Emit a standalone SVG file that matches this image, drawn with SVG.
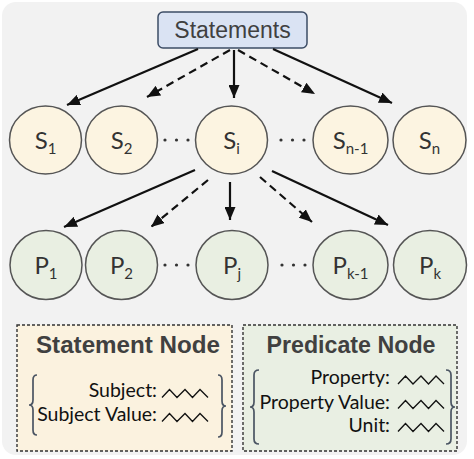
<svg xmlns="http://www.w3.org/2000/svg" width="474" height="459" viewBox="0 0 474 459">
<style>
.s{fill:#fcf4e1;stroke:#555;stroke-width:1.5}
.p{fill:#e9efe2;stroke:#555;stroke-width:1.5}
.lab{font-family:Lato,"Open Sans",sans-serif;font-size:24px;fill:#333;text-anchor:middle}
.sub{font-size:15px}
.ln{stroke:#111;stroke-width:2.2;fill:none;marker-end:url(#ah)}
.dash{stroke-dasharray:8,5}
.title{font-family:"Liberation Sans",Arial,sans-serif;font-weight:bold;font-size:23.5px;fill:#404040;text-anchor:middle}
.body{font-family:Lato,"Open Sans",sans-serif;font-size:19.5px;fill:#111;text-anchor:end}
.sq{fill:none;stroke:#111;stroke-width:1.3;stroke-linejoin:miter}
.br{fill:none;stroke:#4b5563;stroke-width:1.7}
.dot{fill:#333}
</style>
<defs>
<marker id="ah" markerUnits="userSpaceOnUse" markerWidth="13" markerHeight="11" refX="13" refY="5.5" orient="auto">
<path d="M0,0 L13,5.5 L0,11 z" fill="#111"/>
</marker>
<polyline id="zz" points="0,8.5 7.5,0.5 15,8.5 23,0.5 30.5,8.5 38,0.5 46,8.5"/>
</defs>
<rect x="2" y="2" width="465" height="453" rx="14" fill="#f2f2f2"/>

<g id="statements">
<rect x="158" y="12" width="149" height="36" rx="5" fill="#dae3f3" stroke="#3d4d66" stroke-width="1.5"/>
<text x="232.5" y="38" style="font-family:'Liberation Sans',Arial,sans-serif;font-size:23px;fill:#404040;text-anchor:middle">Statements</text>
</g>

<g id="connectors">
<line class="ln" x1="198" y1="49" x2="67" y2="105"/>
<line class="ln dash" x1="230" y1="50" x2="147" y2="97"/>
<line class="ln" x1="234" y1="50" x2="234" y2="98"/>
<line class="ln dash" x1="238" y1="50" x2="315" y2="94"/>
<line class="ln" x1="273" y1="49" x2="392" y2="103"/>
<line class="ln" x1="195" y1="170" x2="64" y2="227"/>
<line class="ln dash" x1="208" y1="180" x2="151" y2="227"/>
<line class="ln" x1="230" y1="182" x2="230" y2="220"/>
<line class="ln dash" x1="260" y1="177" x2="312" y2="222"/>
<line class="ln" x1="272" y1="171" x2="388" y2="225"/>
</g>

<g id="s1"><ellipse class="s" cx="45.5" cy="140" rx="36" ry="34"/><text class="lab" x="45.5" y="148.5">S<tspan class="sub" dy="5">1</tspan></text></g>
<g id="s2"><ellipse class="s" cx="121.5" cy="140" rx="36" ry="34"/><text class="lab" x="121.5" y="148.5">S<tspan class="sub" dy="5">2</tspan></text></g>
<g id="si"><ellipse class="s" cx="231.5" cy="140" rx="36" ry="34"/><text class="lab" x="231.5" y="148.5">S<tspan class="sub" dy="5">i</tspan></text></g>
<g id="sn1"><ellipse class="s" cx="350.5" cy="140" rx="37.5" ry="34"/><text class="lab" x="350.5" y="148.5">S<tspan class="sub" dy="5">n-1</tspan></text></g>
<g id="sn"><ellipse class="s" cx="429.5" cy="140" rx="36.5" ry="34"/><text class="lab" x="429.5" y="148.5">S<tspan class="sub" dy="5">n</tspan></text></g>

<g id="sdots">
<circle class="dot" cx="165" cy="140" r="1.6"/><circle class="dot" cx="176.5" cy="140" r="1.6"/><circle class="dot" cx="188" cy="140" r="1.6"/>
<circle class="dot" cx="281" cy="140" r="1.6"/><circle class="dot" cx="292.5" cy="140" r="1.6"/><circle class="dot" cx="304" cy="140" r="1.6"/>
</g>

<g id="p1"><ellipse class="p" cx="46" cy="265" rx="36" ry="34.5"/><text class="lab" x="46" y="273.5">P<tspan class="sub" dy="5">1</tspan></text></g>
<g id="p2"><ellipse class="p" cx="121.5" cy="265" rx="36" ry="34.5"/><text class="lab" x="121.5" y="273.5">P<tspan class="sub" dy="5">2</tspan></text></g>
<g id="pj"><ellipse class="p" cx="232" cy="265" rx="36" ry="34.5"/><text class="lab" x="232" y="273.5">P<tspan class="sub" dy="5">j</tspan></text></g>
<g id="pk1"><ellipse class="p" cx="350.5" cy="265" rx="37.5" ry="34.5"/><text class="lab" x="350.5" y="273.5">P<tspan class="sub" dy="5">k-1</tspan></text></g>
<g id="pk"><ellipse class="p" cx="430" cy="265" rx="36.5" ry="34.5"/><text class="lab" x="430" y="273.5">P<tspan class="sub" dy="5">k</tspan></text></g>

<g id="pdots">
<circle class="dot" cx="165" cy="265" r="1.6"/><circle class="dot" cx="176.5" cy="265" r="1.6"/><circle class="dot" cx="188" cy="265" r="1.6"/>
<circle class="dot" cx="282" cy="265" r="1.6"/><circle class="dot" cx="293.5" cy="265" r="1.6"/><circle class="dot" cx="305" cy="265" r="1.6"/>
</g>

<g id="statement-node">
<rect x="17" y="325" width="215" height="126" fill="#fbf2df" stroke="#333" stroke-width="1.4" stroke-dasharray="3,2"/>
<text class="title" x="128" y="353" textLength="184" lengthAdjust="spacingAndGlyphs">Statement Node</text>
<path class="br" d="M37,375 Q33,375 33,380 L33,400 Q33,405 29,405 Q33,405 33,410 L33,430 Q33,435 37,435"/>
<path class="br" d="M218,375 Q222,375 222,380 L222,401 Q222,406 226,406 Q222,406 222,411 L222,432 Q222,437 218,437"/>
<text class="body" x="157" y="397">Subject:</text>
<text class="body" x="157" y="421">Subject Value:</text>
<use href="#zz" class="sq" x="162" y="389"/>
<use href="#zz" class="sq" x="162" y="413"/>
</g>

<g id="predicate-node">
<rect x="243" y="325" width="214" height="126" fill="#e9efe3" stroke="#333" stroke-width="1.4" stroke-dasharray="3,2"/>
<text class="title" x="351" y="353" textLength="169" lengthAdjust="spacingAndGlyphs">Predicate Node</text>
<path class="br" d="M259,370 Q254,370 254,375 L254,402 Q254,407 250,407 Q254,407 254,412 L254,439 Q254,444 259,444"/>
<path class="br" d="M446,370 Q451,370 451,375 L451,402 Q451,407 455,407 Q451,407 451,412 L451,439 Q451,444 446,444"/>
<text class="body" x="390" y="384">Property:</text>
<text class="body" x="390" y="409">Property Value:</text>
<text class="body" x="390" y="432">Unit:</text>
<use href="#zz" class="sq" x="398" y="375.5"/>
<use href="#zz" class="sq" x="398" y="400"/>
<use href="#zz" class="sq" x="398" y="423"/>
</g>
</svg>
